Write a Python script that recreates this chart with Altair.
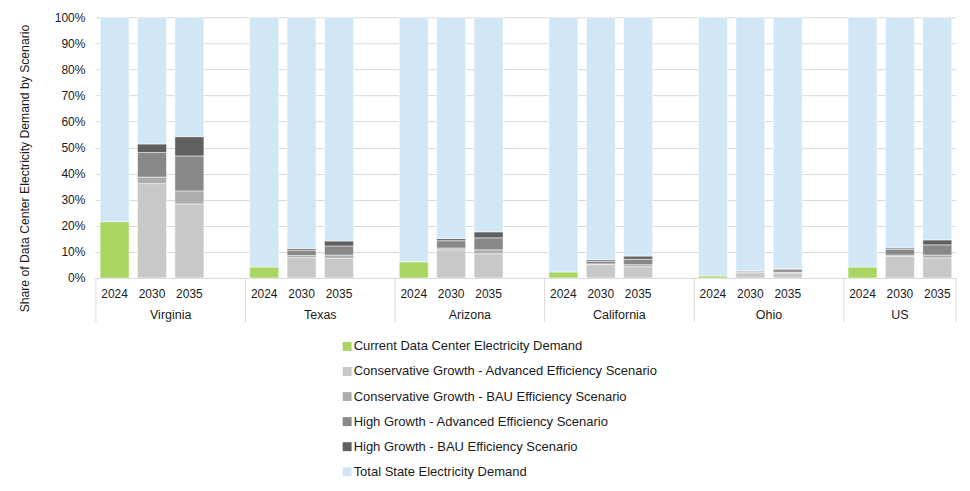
import altair as alt
import pandas as pd

states = ["Virginia", "Texas", "Arizona", "California", "Ohio", "US"]
years = ["2024", "2030", "2035"]

series = [
    "Current Data Center Electricity Demand",
    "Conservative Growth - Advanced Efficiency Scenario",
    "Conservative Growth - BAU Efficiency Scenario",
    "High Growth - Advanced Efficiency Scenario",
    "High Growth - BAU Efficiency Scenario",
    "Total State Electricity Demand",
]
colors = ["#a9d562", "#c8c8c8", "#adadad", "#888888", "#606060", "#d2e7f5"]

# share (%) in 2024
current_2024 = [21.6, 4.2, 6.2, 2.3, 0.8, 4.2]
# stacked increments (%) per state for [2030, 2035]
cons_adv = [[36.2, 28.4], [7.8, 7.6], [10.8, 9.3], [5.1, 4.3], [2.0, 1.9], [8.3, 7.7]]
cons_bau = [[2.5, 5.0], [0.8, 1.2], [0.7, 1.5], [0.3, 0.8], [0.1, 0.3], [0.5, 1.1]]
high_adv = [[9.4, 13.4], [1.9, 3.5], [2.8, 4.6], [1.0, 2.1], [0.5, 1.0], [2.2, 3.9]]
high_bau = [[3.3, 7.4], [0.7, 1.9], [0.8, 2.3], [0.6, 1.2], [0.2, 0.4], [0.5, 1.9]]

# x domain: three years per state plus an empty slot between states
keys = []
for i, s in enumerate(states):
    for y in years:
        keys.append(f"{s}|{y}")
    if i < len(states) - 1:
        keys.append(f"{s}|gap")

rows = []
for i, s in enumerate(states):
    k = f"{s}|2024"
    rows.append({"key": k, "series": series[0], "ord": 0, "v": current_2024[i]})
    rows.append({"key": k, "series": series[5], "ord": 5, "v": 100 - current_2024[i]})
    for j, y in enumerate(["2030", "2035"]):
        k = f"{s}|{y}"
        parts = [cons_adv[i][j], cons_bau[i][j], high_adv[i][j], high_bau[i][j]]
        for n, p in enumerate(parts):
            rows.append({"key": k, "series": series[n + 1], "ord": n + 1, "v": p})
        rows.append({"key": k, "series": series[5], "ord": 5, "v": 100 - sum(parts)})
df = pd.DataFrame(rows)

W = 861
H = 261
P_IN = 0.225
step = W / len(keys)
half_gap = P_IN * step / 2

xscale = alt.Scale(domain=keys, paddingInner=P_IN, paddingOuter=P_IN / 2)
FONT = "Liberation Sans"
TXT = "#1a1a1a"
GRID = "#d9d9d9"

bars = alt.Chart(df).mark_bar(stroke="white", strokeWidth=0.5).encode(
    x=alt.X(
        "key:N",
        scale=xscale,
        sort=keys,
        axis=alt.Axis(
            title=None,
            labelAngle=0,
            ticks=False,
            domainColor=GRID,
            labelPadding=11,
            labelFontSize=12,
            labelColor=TXT,
            labelFont=FONT,
            labelExpr="split(datum.label, '|')[1] == 'gap' ? '' : split(datum.label, '|')[1]",
        ),
    ),
    y=alt.Y(
        "v:Q",
        stack="zero",
        scale=alt.Scale(domain=[0, 100], nice=False),
        axis=alt.Axis(
            title="Share of Data Center Electricity Demand by Scenario",
            values=list(range(0, 101, 10)),
            labelExpr="datum.value + '%'",
            ticks=False,
            domain=False,
            gridColor=GRID,
            labelPadding=11,
            labelFontSize=12,
            labelColor=TXT,
            labelFont=FONT,
            titleFont=FONT,
            titleFontSize=12.2,
            titleFontWeight="normal",
            titleColor=TXT,
            titleX=-71,
            titleY=151,
            titleBaseline="middle",
            titleAngle=270,
        ),
    ),
    color=alt.Color(
        "series:N",
        scale=alt.Scale(domain=series, range=colors),
        legend=alt.Legend(
            title=None,
            orient="none",
            legendX=245,
            legendY=323,
            direction="vertical",
            symbolType="square",
            symbolSize=80,
            symbolStrokeWidth=0,
            labelFontSize=13,
            labelFont=FONT,
            labelColor=TXT,
            labelOffset=0,
            rowPadding=11.1,
            labelLimit=500,
        ),
    ),
    order=alt.Order("ord:Q", sort="ascending"),
)

div_df = pd.DataFrame({"key": [f"{s}|2024" for s in states]})
dividers = alt.Chart(div_df).mark_rule(color=GRID, strokeWidth=1, xOffset=-half_gap).encode(
    x=alt.X("key:N", scale=xscale, sort=keys, bandPosition=0),
    y=alt.value(H),
    y2=alt.value(H + 44),
)
end_df = pd.DataFrame({"key": [f"{states[-1]}|2035"]})
end_div = alt.Chart(end_df).mark_rule(color=GRID, strokeWidth=1, xOffset=half_gap).encode(
    x=alt.X("key:N", scale=xscale, sort=keys, bandPosition=1),
    y=alt.value(H),
    y2=alt.value(H + 44),
)

lab_df = pd.DataFrame({"key": [f"{s}|2035" for s in states[:-1]], "label": states[:-1]})
labels = alt.Chart(lab_df).mark_text(
    font=FONT, fontSize=12.5, color=TXT, baseline="middle", align="center", xOffset=-half_gap
).encode(
    x=alt.X("key:N", scale=xscale, sort=keys, bandPosition=0),
    y=alt.value(H + 37),
    text="label:N",
)
last_df = pd.DataFrame({"key": [f"{states[-1]}|2030"], "label": [states[-1]]})
last_label = alt.Chart(last_df).mark_text(
    font=FONT, fontSize=12.5, color=TXT, baseline="middle", align="center"
).encode(
    x=alt.X("key:N", scale=xscale, sort=keys, bandPosition=0.5),
    y=alt.value(H + 37),
    text="label:N",
)

chart = alt.layer(bars, dividers, end_div, labels, last_label).properties(
    width=W,
    height=H,
    padding={"left": 11, "top": 3, "right": 5, "bottom": 5},
    background="white",
).configure_view(stroke=None)

chart.save("out.html", embed_options={"renderer": "svg", "actions": False})
